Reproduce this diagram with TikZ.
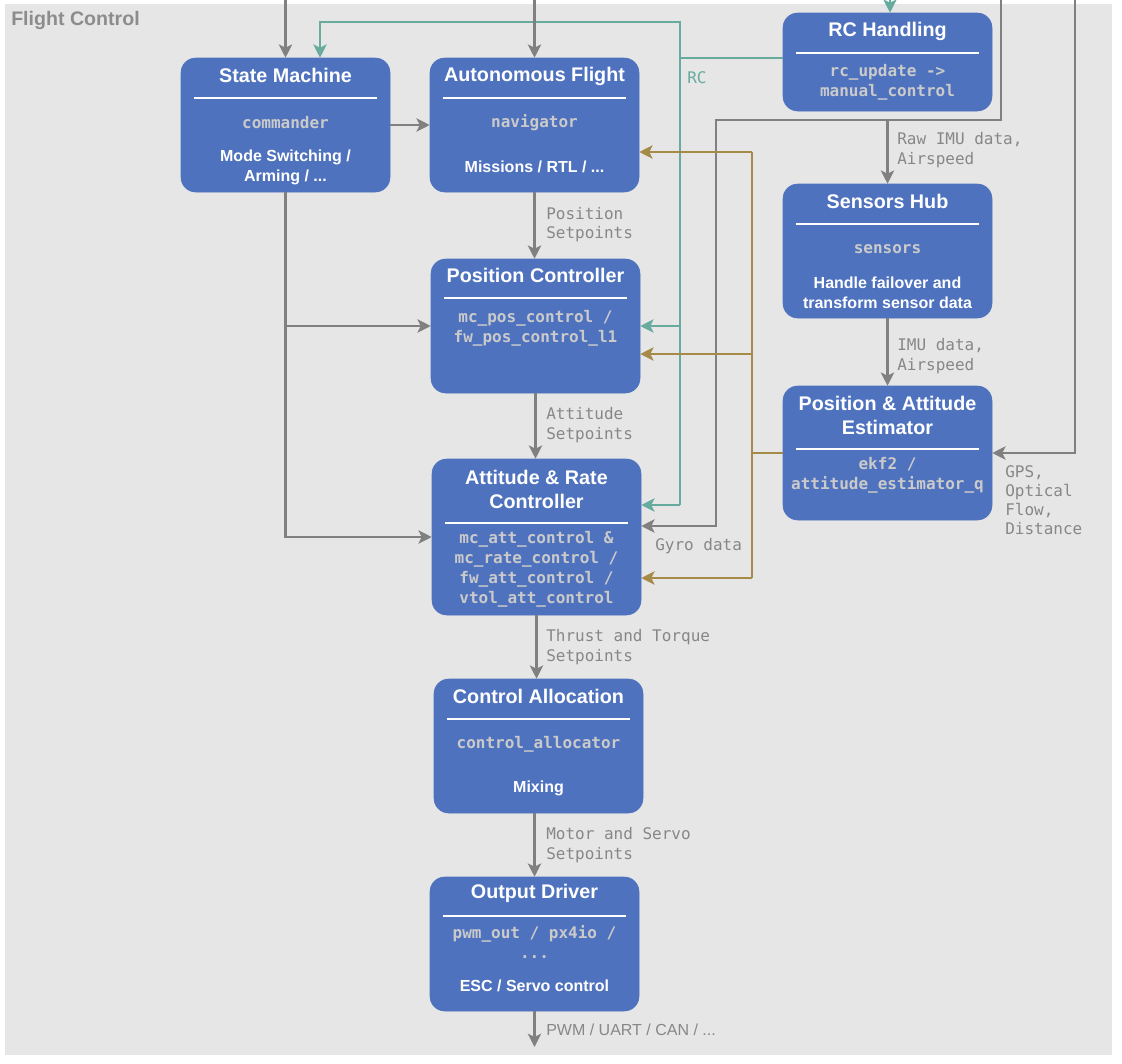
\documentclass[tikz,border=0pt]{standalone}
\usepackage{fontspec}
\setmainfont{Liberation Sans}
\setsansfont{Liberation Sans}
\setmonofont{DejaVu Sans Mono}
\usetikzlibrary{arrows.meta,calc}
\definecolor{boxblue}{HTML}{4F72BE}
\definecolor{bggray}{HTML}{E6E6E6}
\definecolor{tealc}{HTML}{67AB9F}
\definecolor{goldc}{HTML}{A68A47}
\definecolor{arrgray}{HTML}{808080}
\definecolor{lblgray}{HTML}{878787}
\definecolor{monogray}{HTML}{CACACA}
\definecolor{ttlgray}{HTML}{8C8C8C}
\tikzset{
  box/.style={draw=boxblue, fill=boxblue, rounded corners=11pt, minimum width=156.75pt, minimum height=100.5pt, inner sep=0pt},
  ttl/.style={text=white, font=\bfseries\fontsize{14.8}{18}\selectfont, align=center, inner sep=0pt},
  mono/.style={text=monogray, font=\ttfamily\bfseries\fontsize{12}{15}\selectfont, align=center, inner sep=0pt, yshift=-1.5pt},
  desc/.style={text=white, font=\bfseries\fontsize{12}{15}\selectfont, align=center, inner sep=0pt, yshift=-1.5pt},
  sepl/.style={draw=white, line width=1.4pt},
  lbl/.style={text=lblgray, font=\ttfamily\fontsize{12}{14.6}\selectfont, align=left, anchor=west, inner sep=0pt, yshift=-1.5pt},
  conn/.style={draw=arrgray, line width=1.6pt},
  arr/.style={conn, -{Stealth[length=10pt,width=10pt,inset=2.5pt]}},
  tconn/.style={draw=tealc, line width=1.6pt},
  tarr/.style={tconn, -{Stealth[length=10pt,width=10pt,inset=2.5pt]}},
  oconn/.style={draw=goldc, line width=1.6pt},
  oarr/.style={oconn, -{Stealth[length=10pt,width=10pt,inset=2.5pt]}},
}
\begin{document}
\begin{tikzpicture}[x=0.75pt, y=-0.75pt]
\useasboundingbox (0,0) rectangle (1122,1064);
\fill[white] (0,0) rectangle (1122,1064);
\fill[bggray] (5,4) rectangle (1112,1055);
\node[anchor=west, inner sep=0pt, text=ttlgray, font=\bfseries\fontsize{14.7}{18}\selectfont] (fctitle) at (11,20) {Flight Control};

% ---------- boxes ----------
\node[box] (sm) at (285.5,125) {};
\node[ttl] (smt) at (285.5,75) {State Machine};
\draw[sepl] (194,98) -- (377,98);
\node[mono] (smm) at (285.5,121) {commander};
\node[desc] (smd) at (285.5,165) {Mode Switching /\\Arming / ...};

\node[box] (af) at (534.5,125) {};
\node[ttl] (aft) at (534.5,76.5) {Autonomous Flight};
\draw[sepl] (443,98) -- (626,98);
\node[mono] (afm) at (534.5,121) {navigator};
\node[desc] (afd) at (534.5,165) {Missions / RTL / ...};

\node[box, minimum height=73.5pt] (rc) at (887.5,62) {};
\node[ttl] (rct) at (887.5,31) {RC Handling};
\draw[sepl] (796,53) -- (979,53);
\node[mono] (rcm) at (887.5,80.5) {rc\_update ->\\manual\_control};

\node[box] (pc) at (535.5,326) {};
\node[ttl] (pct) at (535.5,275) {Position Controller};
\draw[sepl] (444,298) -- (627,298);
\node[mono] (pcm) at (535.5,326) {mc\_pos\_control /\\fw\_pos\_control\_l1};

\node[box] (sh) at (887.5,251) {};
\node[ttl] (sht) at (887.5,201) {Sensors Hub};
\draw[sepl] (796,224) -- (979,224);
\node[mono] (shm) at (887.5,247) {sensors};
\node[desc] (shd) at (887.5,291) {Handle failover and\\transform sensor data};

\node[box] (est) at (887.5,453) {};
\node[ttl] (estt) at (887.5,415.5) {Position \& Attitude\\Estimator};
\draw[sepl] (796,449) -- (979,449);
\node[mono] (estm) at (887.5,473) {ekf2 /\\attitude\_estimator\_q};

\node[box, minimum height=117pt] (arc) at (536.5,537) {};
\node[ttl] (arct) at (536.5,489) {Attitude \& Rate\\Controller};
\draw[sepl] (445,523) -- (628,523);
\node[mono] (arcm) at (536.5,567) {mc\_att\_control \&\\mc\_rate\_control /\\fw\_att\_control /\\vtol\_att\_control};

\node[box] (ca) at (538.5,746) {};
\node[ttl] (cat) at (538.5,696) {Control Allocation};
\draw[sepl] (447,719) -- (630,719);
\node[mono] (cam) at (538.5,742) {control\_allocator};
\node[desc] (cad) at (538.5,786) {Mixing};

\node[box] (od) at (534.5,944) {};
\node[ttl] (odt) at (534.5,893) {Output Driver};
\draw[sepl] (443,916) -- (626,916);
\node[mono] (odm) at (534.5,940) {pwm\_out / px4io /\\...};
\node[desc] (odd) at (534.5,984) {ESC / Servo control};

% ---------- coordinates ----------
\coordinate (smin) at (285.5,0);
\coordinate (afin) at (534.5,0);
\coordinate (rcin) at (890,0);
\coordinate (tr) at (680,58);
\coordinate (tv1) at (680,22);
\coordinate (tv2) at (680,505);
\coordinate (tl) at (320,22);
\coordinate (g0) at (1001,0);
\coordinate (g1) at (1001,120);
\coordinate (g2) at (716,120);
\coordinate (g3) at (716,526);
\coordinate (p0) at (1075,0);
\coordinate (p1) at (1075,453);
\coordinate (o1) at (752,152);
\coordinate (o2) at (752,354);
\coordinate (o3) at (752,578);
\coordinate (out) at (534.5,1047);

% ---------- teal (RC) ----------
\draw[tarr] (rcin) -- (rcin |- rc.north);
\draw[tconn] (tr -| rc.west) -- (tr);
\draw[tarr] (tv2) -- (tv1) -- (tl) -- (tl |- sm.north);
\draw[tarr] (tv1 |- pc.east) -- (pc.east);
\draw[tarr] (tv2) -- (tv2 -| arc.east);
\node[lbl, text=tealc] (rcl) at (687,76) {RC};

% ---------- gray ----------
\draw[arr] (smin) -- (sm.north);
\draw[arr] (afin) -- (af.north);
\draw[arr] (sm.east) -- (af.west);
\draw[arr] (sm.south) |- (arc.west);
\draw[arr] (sm.south |- pc.west) -- (pc.west);
\draw[arr] (af.south) -- (af.south |- pc.north);
\draw[arr] (pc.south) -- (pc.south |- arc.north);
\draw[arr] (arc.south) -- (arc.south |- ca.north);
\draw[arr] (od.north |- ca.south) -- (od.north);
\draw[arr] (od.south) -- (out);
\draw[arr] (g0) -- (g1) -- (g2) -- (g3) -- (g3 -| arc.east);
\draw[arr] (sh.north |- g1) -- (sh.north);
\draw[arr] (sh.south) -- (sh.south |- est.north);
\draw[arr] (p0) -- (p1) -- (est.east);

% ---------- gold ----------
\draw[oconn] (est.west) -- (est.west -| o1);
\draw[oconn] (o1) -- (o3);
\draw[oarr] (o1) -- (o1 -| af.east);
\draw[oarr] (o2) -- (o2 -| pc.east);
\draw[oarr] (o3) -- (o3 -| arc.east);

% ---------- labels ----------
\node[lbl] (l1) at (546,222.5) {Position\\Setpoints};
\node[lbl] (l2) at (546,423) {Attitude\\Setpoints};
\node[lbl] (l3) at (546,645) {Thrust and Torque\\Setpoints};
\node[lbl] (l4) at (546,843) {Motor and Servo\\Setpoints};
\node[lbl, font=\fontsize{12}{14}\selectfont] (l5) at (546,1028) {PWM / UART / CAN / ...};
\node[lbl] (l6) at (897,148) {Raw IMU data,\\Airspeed};
\node[lbl] (l7) at (897,354) {IMU data,\\Airspeed};
\node[lbl, font=\ttfamily\fontsize{12}{14.25}\selectfont] (l8) at (1005,498.5) {GPS,\\Optical\\Flow,\\Distance};
\node[lbl] (l9) at (655,544) {Gyro data};
\end{tikzpicture}
\end{document}
